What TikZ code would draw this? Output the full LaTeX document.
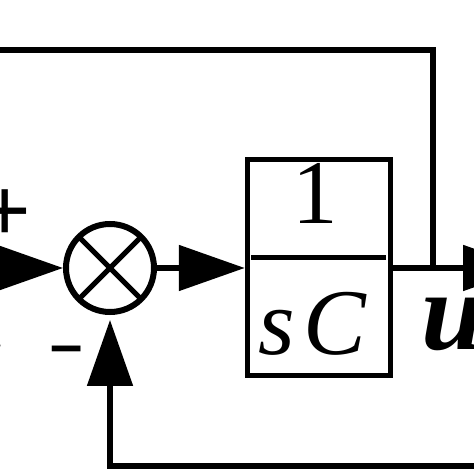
\documentclass[tikz,border=0pt]{standalone}
\usepackage{fontspec}
\setmainfont{Liberation Serif}
\newfontfamily\sansf{Liberation Sans}
\usetikzlibrary{arrows.meta}
\begin{document}
\begin{tikzpicture}[x=1pt,y=1pt,
  wire/.style={line width=5.2pt},
  tipa/.style={-{Triangle[length=66pt,width=45pt]}},
  sumnode/.style={circle,draw,line width=6pt,minimum size=88pt,inner sep=0pt},
  blknode/.style={draw,line width=5.5pt,minimum width=143pt,minimum height=216pt,inner sep=0pt},
  lbl/.style={inner sep=0pt,outer sep=0pt}]
\useasboundingbox (0,0) rectangle (474,474);
\node[sumnode] (sum) at (110,206) {};
\draw[line width=5pt] (sum.center) ++(45:43) -- ++(225:86);
\draw[line width=5pt] (sum.center) ++(135:43) -- ++(315:86);
\node[blknode] (blk) at (319,206.5) {};
\draw[line width=5pt] (blk.center) ++(-68,9.5) -- ++(135,0);
\node[lbl,anchor=base] (one) at (315,250) {\fontsize{91}{91}\selectfont 1};
\node[lbl,anchor=base west] (sc) at (258,119) {\fontsize{94}{94}\selectfont\itshape s\hspace{9pt}C};
\node[lbl,anchor=base west] (u) at (421,124) {\fontsize{112}{112}\selectfont\bfseries\itshape u};
\node[lbl] (plus) at (5,259) {\sansf\fontsize{88}{88}\selectfont +};
\node[lbl,anchor=base] (minus) at (66.5,109) {\sansf\bfseries\fontsize{58}{58}\selectfont –};
\node[lbl,anchor=base east] (L) at (4,117) {\fontsize{60}{60}\selectfont\itshape L};
\coordinate (in) at (-10,206);
\coordinate (jn) at (433,206);
\coordinate (tr) at (433,424);
\coordinate (tl) at (-10,424);
\coordinate (outr) at (529,206);
\coordinate (bl) at (110,8);
\coordinate (br) at (484,8);
\draw[wire,tipa] (in) -- (sum.west);
\draw[wire,tipa] (sum.east) -- (sum.east -| blk.west);
\draw[wire,tipa] (sum.east -| blk.east) -- (outr);
\draw[wire] (jn) -- (tr) -- (tl);
\draw[wire,tipa] (br) -- (bl) -- ([yshift=-5pt]sum.south);
\end{tikzpicture}
\end{document}
